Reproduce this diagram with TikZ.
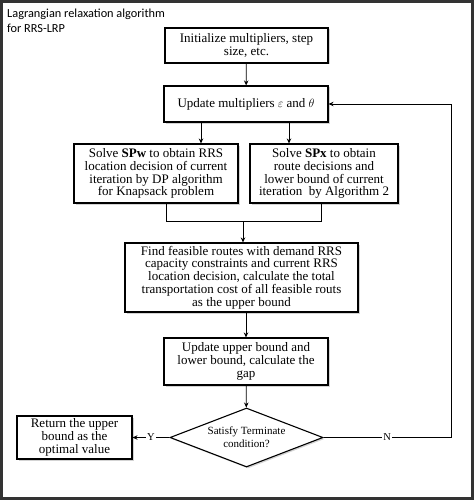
\documentclass[tikz,border=0pt]{standalone}
\usepackage{fontspec}
\setmainfont{Liberation Serif}
\newfontfamily\titlefont{Carlito}
\usetikzlibrary{shapes.geometric,arrows.meta,shadows}
\begin{document}
\begin{tikzpicture}[x=1pt,y=-1pt,
  box/.style={draw,line width=1.1pt,fill=white,align=center,inner sep=2pt,
    font=\fontsize{13}{12.8}\selectfont,
    drop shadow={shadow xshift=1.5pt,shadow yshift=-1.5pt,opacity=0.35}},
  arr/.style={-{Stealth[length=5pt,width=4.5pt]},line width=0.8pt},
  ln/.style={line width=0.8pt},
  lab/.style={fill=white,inner sep=1pt,font=\fontsize{10.5}{12}\selectfont}]
\useasboundingbox (0,0) rectangle (474,500);
\draw[line width=3pt,draw=black!80] (1.5,1.5) rectangle (472.5,498.5);
\node[anchor=north west,align=left,inner sep=0pt,font=\titlefont\fontsize{12.3}{14.5}\selectfont] (title) at (7,9) {Lagrangian relaxation algorithm\\for RRS-LRP};
\node[box,minimum width=163pt,minimum height=35pt] (init) at (246.5,45.5) {Initialize multipliers, step\\size, etc.};
\node[box,minimum width=164pt,minimum height=36pt] (upd) at (246,104) {Update multipliers $\varepsilon$ and $\theta$};
\node[box,minimum width=164pt,minimum height=59pt] (spw) at (156,173.5) {Solve \textbf{SPw} to obtain RRS\\location decision of current\\iteration by DP algorithm\\for Knapsack problem};
\node[box,minimum width=148pt,minimum height=59pt] (spx) at (324,173.5) {Solve \textbf{SPx} to obtain\\route decisions and\\lower bound of current\\iteration\ \ by Algorithm 2};
\node[box,minimum width=233pt,minimum height=69pt] (feas) at (241.5,277.5) {Find feasible routes with demand RRS\\capacity constraints and current RRS\\location decision, calculate the total\\transportation cost of all feasible routs\\as the upper bound};
\node[box,minimum width=164pt,minimum height=47pt] (ub) at (246,361.5) {Update upper bound and\\lower bound, calculate the\\gap};
\node[box,diamond,aspect=2.6,inner sep=0pt,minimum width=153pt,minimum height=59pt,font=\fontsize{11}{13}\selectfont] (term) at (246.5,437.5) {Satisfy Terminate\\condition?};
\node[box,minimum width=115pt,minimum height=43pt] (ret) at (74.5,437.5) {Return the upper\\bound as the\\optimal value};
\coordinate (xa) at (201,0);
\coordinate (xb) at (289,0);
\coordinate (m1) at (166,221);
\coordinate (m2) at (321,221);
\coordinate (mm) at (243,221);
\coordinate (fb) at (451,437.5);
\coordinate (fb2) at (451,104);
\draw[arr] (init) -- (upd);
\draw[arr] (upd.south -| xa) -- (spw.north -| xa);
\draw[arr] (upd.south -| xb) -- (spx.north -| xb);
\draw[ln] (spw.south -| m1) -- (m1) -- (m2) -- (spx.south -| m2);
\draw[arr] (mm) -- (feas.north -| mm);
\draw[arr] (feas.south -| ub.north) -- (ub.north);
\draw[arr] (ub) -- (term);
\draw[arr] (term.west) -- node[lab] (y) {Y} (ret.east);
\draw[ln] (term.east) -- node[lab,pos=0.5] (n) {N} (fb);
\draw[arr] (fb) -- (fb2) -- (upd.east);
\end{tikzpicture}
\end{document}
